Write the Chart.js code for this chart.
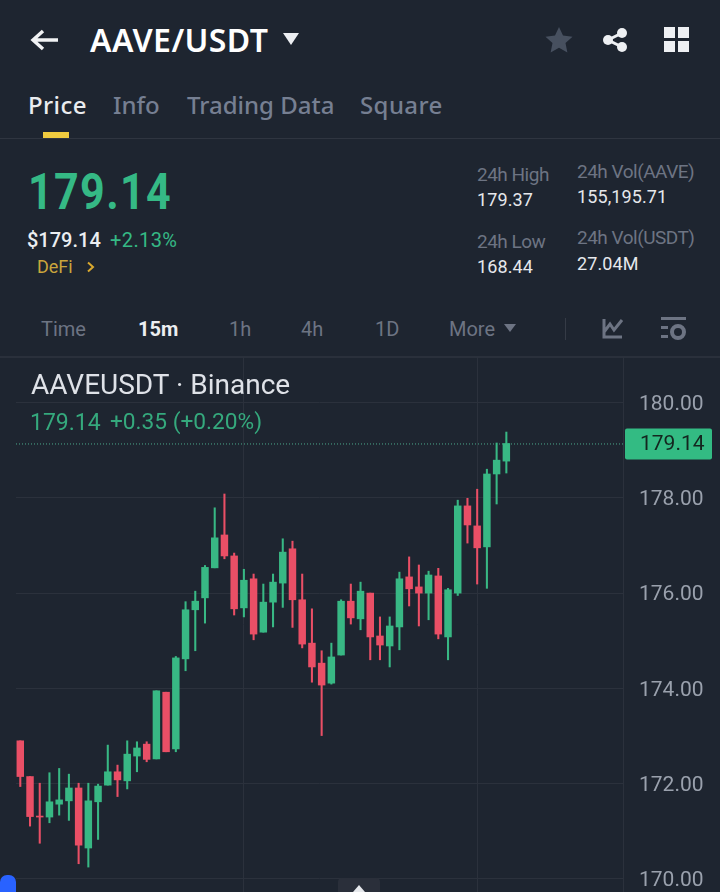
<!DOCTYPE html>
<html>
<head>
<meta charset="utf-8">
<title>AAVE/USDT</title>
<script src="https://cdn.jsdelivr.net/npm/chart.js@4"></script>
<style>
html, body { margin: 0; padding: 0; background: #1e2530; }
#page { position: relative; width: 720px; height: 892px; overflow: hidden; background: #1e2530; font-family: Roboto, sans-serif; }
#page span, #page svg, #page div { position: absolute; }
#page span { white-space: nowrap; line-height: 1; }
canvas { position: absolute; left: 0; top: 357px; }
.tab { font-family: "Noto Sans", sans-serif; font-size: 24px; font-weight: 500; color: #767f92; top: 93px; }
.label { font-size: 19px; color: #6d7483; letter-spacing: -0.5px; }
.val { font-size: 18px; color: #e6e8ec; letter-spacing: 0.1px; }
.period { font-size: 20px; color: #6d7483; top: 319px; }
</style>
</head>
<body>
<div id="page">
  <svg style="left:30px;top:28px" width="30" height="24" viewBox="0 0 30 24"><path d="M13 3 L3 12 L13 21 M3 12 H28" fill="none" stroke="#f1f2f4" stroke-width="3.4"/></svg>
  <span style="left:90px;top:24px;font-family:'Noto Sans',sans-serif;font-size:32px;font-weight:600;color:#fff;letter-spacing:0.4px">AAVE/USDT</span>
  <svg style="left:282px;top:32px" width="18" height="14"><path d="M1 1 H17 L9 13 Z" fill="#eceef2"/></svg>
  <svg style="left:544px;top:25px" width="30" height="30" viewBox="0 0 24 24"><path d="M12 1.5 L15.2 8.4 L22.8 9.3 L17.2 14.4 L18.7 22 L12 18.2 L5.3 22 L6.8 14.4 L1.2 9.3 L8.8 8.4 Z" fill="#47505f"/></svg>
  <svg style="left:601px;top:26px" width="28" height="28"><path d="M21 7 L7 14 L21 21" fill="none" stroke="#eef0f3" stroke-width="3"/><circle cx="21" cy="7" r="5" fill="#eef0f3"/><circle cx="7" cy="14" r="5" fill="#eef0f3"/><circle cx="21" cy="21" r="5" fill="#eef0f3"/></svg>
  <svg style="left:664px;top:27px" width="26" height="26"><rect width="11" height="11" fill="#eef0f3"/><rect x="14" width="11" height="11" fill="#eef0f3"/><rect y="14" width="11" height="11" fill="#eef0f3"/><rect x="14" y="14" width="11" height="11" fill="#eef0f3"/></svg>

  <span class="tab" style="left:28px;color:#eaecef;letter-spacing:0.4px">Price</span>
  <span class="tab" style="left:113px">Info</span>
  <span class="tab" style="left:187px">Trading Data</span>
  <span class="tab" style="left:360px;letter-spacing:0.4px">Square</span>
  <div style="left:43px;top:132px;width:26px;height:6px;background:#f0cb3f"></div>
  <div style="left:0;top:138px;width:720px;height:1px;background:#2f3540"></div>

  <span style="left:28px;top:167px;font-size:50px;font-weight:700;color:#35b985;letter-spacing:1.6px;transform:scaleX(0.86);transform-origin:left">179.14</span>
  <span style="left:27px;top:230px;font-size:20px;font-weight:500;color:#eceef1">$179.14</span>
  <span style="left:110px;top:230px;font-size:20px;color:#35b985;letter-spacing:0.4px">+2.13%</span>
  <span style="left:37px;top:258px;font-size:18px;color:#c9a63c">DeFi</span>
  <svg style="left:86px;top:261px" width="10" height="12"><path d="M2 1.5 L7 6 L2 10.5" fill="none" stroke="#d9a92f" stroke-width="2"/></svg>

  <span class="label" style="left:477px;top:165px">24h High</span>
  <span class="val" style="left:477px;top:191px">179.37</span>
  <span class="label" style="left:477px;top:232px">24h Low</span>
  <span class="val" style="left:477px;top:258px">168.44</span>
  <span class="label" style="left:577px;top:162px">24h Vol(AAVE)</span>
  <span class="val" style="left:577px;top:188px">155,195.71</span>
  <span class="label" style="left:577px;top:228px">24h Vol(USDT)</span>
  <span class="val" style="left:577px;top:255px">27.04M</span>

  <span class="period" style="left:41px">Time</span>
  <span class="period" style="left:138px;font-weight:700;color:#eceef1">15m</span>
  <span class="period" style="left:229px">1h</span>
  <span class="period" style="left:301px">4h</span>
  <span class="period" style="left:375px">1D</span>
  <span class="period" style="left:449px">More</span>
  <svg style="left:503px;top:323px" width="14" height="10"><path d="M1 1 H13 L7 9 Z" fill="#6d7483"/></svg>
  <div style="left:565px;top:318px;width:1px;height:22px;background:#353b46"></div>
  <svg style="left:602px;top:318px" width="22" height="22"><path d="M2 1 V19 H20 M2 14 L8 6 L12 12 L20 2" fill="none" stroke="#6d7483" stroke-width="3"/></svg>
  <svg style="left:660px;top:316px" width="27" height="26"><rect x="1" y="1" width="25" height="3" fill="#6d7483"/><rect x="1" y="10" width="7" height="3" fill="#6d7483"/><rect x="1" y="19" width="7" height="3" fill="#6d7483"/><circle cx="18" cy="16" r="6" fill="none" stroke="#6d7483" stroke-width="4"/></svg>
  <div style="left:0;top:356px;width:720px;height:2px;background:#2a303b"></div>

  <canvas id="myChart" width="720" height="535"></canvas>

  <span style="left:31px;top:371px;font-size:28px;color:#dfe2e8">AAVEUSDT · Binance</span>
  <span style="left:30px;top:411px;font-size:23px;color:#35a97d">179.14</span>
  <span style="left:110px;top:411px;font-size:22.7px;color:#35a97d">+0.35 (+0.20%)</span>

  <div style="left:0;top:875px;width:16px;height:17px;background:#2962ff;border-radius:7px 7px 0 0"></div>
  <div style="left:338px;top:878px;width:42px;height:14px;background:#2a2f3a;border-radius:4px 4px 0 0"></div>
  <svg style="left:352px;top:885px" width="14" height="7"><path d="M7 0 L13 7 H1 Z" fill="#e6e8ec"/></svg>
</div>

<script>
// oldest candle first
const opens = [172.90,172.15,171.32,171.30,171.57,171.64,171.91,170.65,171.62,171.97,172.25,172.06,172.58,172.83,172.52,173.92,172.73,174.62,175.65,175.90,176.53,177.22,176.78,175.69,176.30,175.18,175.81,176.21,176.93,175.86,174.95,174.53,174.11,174.70,175.83,175.46,176.00,175.10,174.89,175.29,176.34,176.13,176.00,176.36,175.08,176.00,177.83,177.41,176.97,178.50,178.77];
const highs = [172.90,172.15,172.01,172.23,172.32,172.20,172.01,172.01,171.99,172.81,172.39,172.90,172.88,172.88,173.95,173.92,174.67,175.82,176.04,176.58,177.79,178.08,176.84,176.50,176.40,176.19,176.40,177.14,177.09,176.40,175.67,174.79,174.95,175.86,176.19,176.23,176.00,175.50,175.50,176.44,176.76,176.59,176.46,176.52,176.10,177.95,177.99,178.18,178.60,179.15,179.38];
const lows = [171.94,171.11,170.75,171.18,171.34,171.23,170.32,170.25,170.83,171.97,171.73,171.89,172.25,172.46,172.52,172.67,172.67,174.37,174.79,175.37,176.53,176.72,175.54,175.50,175.02,175.18,175.29,175.70,175.28,174.85,174.13,173.01,174.09,174.70,175.35,175.23,174.60,174.60,174.45,174.81,175.73,175.31,175.44,175.04,174.60,175.95,177.05,176.19,176.10,177.87,178.52];
const closes = [172.15,171.31,171.30,171.62,171.66,171.91,170.71,171.64,171.95,172.25,172.08,172.62,172.75,172.51,173.95,172.67,174.64,175.65,175.83,176.54,177.16,176.78,175.67,176.27,175.14,175.81,176.23,176.86,175.86,174.93,174.45,174.07,174.66,175.83,175.48,176.04,175.08,174.91,175.31,176.30,176.09,176.00,176.38,175.14,176.07,177.83,177.43,176.95,178.50,178.79,179.14];
const yTicks = [170, 172, 174, 176, 178, 180];
const timeGrid = [23, 47];
const lastPrice = 179.14;

const upColor = '#38b884';
const downColor = '#ea4f66';
const gridColor = '#2b313c';

function candleColor(ctx){
    const i = ctx.dataIndex;
    return closes[i] >= opens[i] ? upColor : downColor;
}

const wicks = highs.map((h, i) => ({x: i, y: [lows[i], h]}));
const bodies = opens.map((o, i) => ({x: i, y: [o, closes[i]]}));

// dotted line and green tag for the last price
const lastPricePlugin = {
    id: 'lastPrice',
    beforeDatasetsDraw(chart){
        const c = chart.ctx;
        const y = chart.scales.y.getPixelForValue(lastPrice);
        c.save();
        c.strokeStyle = '#4cab8c';
        c.lineWidth = 1;
        c.setLineDash([1, 2]);
        c.beginPath();
        c.moveTo(chart.chartArea.left, y + 0.5);
        c.lineTo(chart.chartArea.right, y + 0.5);
        c.stroke();
        c.restore();
    },
    afterDraw(chart){
        const c = chart.ctx;
        const y = chart.scales.y.getPixelForValue(lastPrice);
        c.save();
        c.fillStyle = '#33bb83';
        c.beginPath();
        c.roundRect(625, y - 15, 87, 31, 2);
        c.fill();
        c.fillStyle = '#14261f';
        c.font = '21px Roboto';
        c.textBaseline = 'middle';
        c.fillText(lastPrice.toFixed(2), 640, y + 1);
        c.restore();
    }
};

new Chart(document.getElementById('myChart'), {
    type: 'bar',
    data: {
        datasets: [
            {label: 'body', data: bodies, order: 0, barThickness: 6.8, minBarLength: 1, backgroundColor: candleColor, grouped: false},
            {label: 'wick', data: wicks, order: 1, barThickness: 1.4, backgroundColor: candleColor, grouped: false}
        ]
    },
    options: {
        responsive: false,
        animation: false,
        layout: {padding: {left: 16}},
        plugins: {legend: {display: false}, tooltip: {enabled: false}},
        scales: {
            x: {
                type: 'linear',
                offset: false,
                min: -0.442,
                max: 62.0,
                afterBuildTicks(scale){ scale.ticks = timeGrid.map(v => ({value: v})); },
                afterFit(scale){ scale.height = 0; scale.paddingLeft = 0; scale.paddingRight = 0; },
                ticks: {display: false},
                border: {display: false},
                grid: {color: gridColor, drawTicks: false, offset: false}
            },
            y: {
                position: 'right',
                min: 169.727,
                max: 180.955,
                afterBuildTicks(scale){ scale.ticks = yTicks.map(v => ({value: v})); },
                afterFit(scale){ scale.width = 97; scale.paddingTop = 0; scale.paddingBottom = 0; },
                ticks: {
                    color: '#9aa1ad',
                    padding: 16,
                    labelOffset: 2,
                    font: {family: 'Roboto', size: 21},
                    callback: v => v.toFixed(2)
                },
                border: {display: true, color: gridColor, width: 1},
                grid: {color: gridColor, drawTicks: false}
            }
        }
    },
    plugins: [lastPricePlugin]
});
</script>
</body>
</html>
